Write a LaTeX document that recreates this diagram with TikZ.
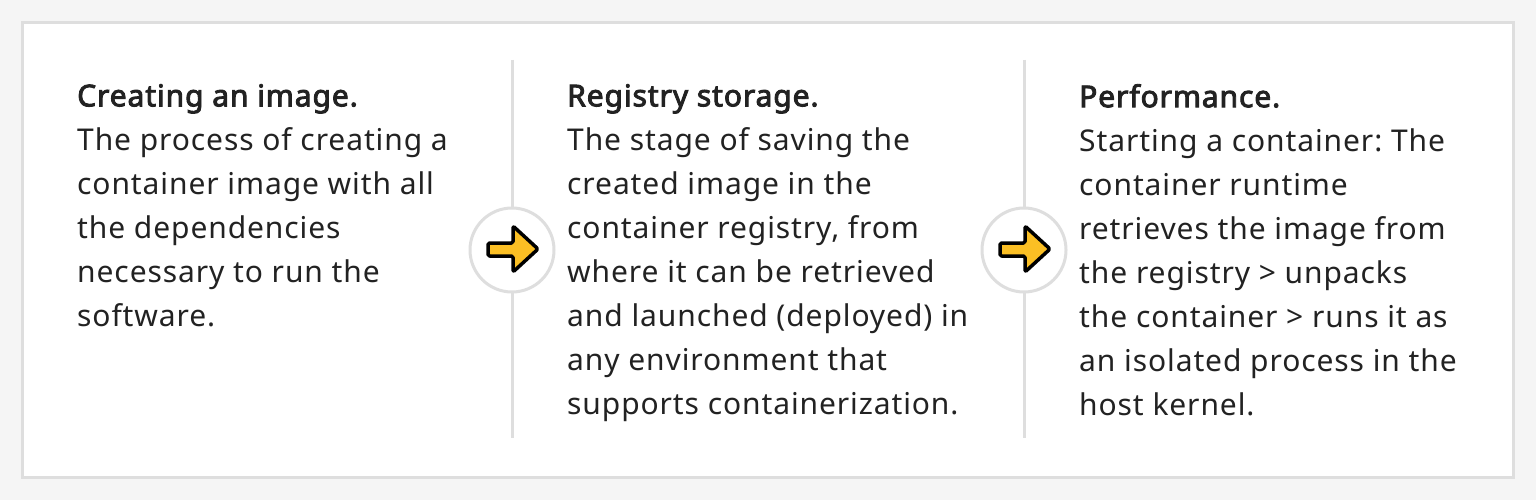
\documentclass[tikz,border=0pt]{standalone}
\usepackage{fontspec}
\setmainfont{Noto Sans}[LetterSpace=3, BoldFont={Noto Sans},
  BoldFeatures={FakeBold=3}]
\frenchspacing
\usetikzlibrary{positioning}

\definecolor{pagebg}{HTML}{F5F5F5}
\definecolor{cardline}{HTML}{DEDEDE}
\definecolor{ink}{HTML}{222222}
\definecolor{arrowfill}{HTML}{FBBF24}

\begin{document}
\begin{tikzpicture}[x=1pt, y=-1pt,
  stage/.style={anchor=north west, inner sep=0pt, align=left, text=ink,
    font=\fontsize{30}{44}\selectfont},
  stepring/.style={circle, draw=cardline, line width=3pt, fill=white,
    minimum size=84pt, inner sep=0pt},
  divider/.style={draw=cardline, line width=3pt},
  pointer/.style={fill=arrowfill, draw=black, line width=3.5pt,
    line join=round, rounded corners=1.5pt}]

  % Page and card
  \fill[pagebg] (0,0) rectangle (1536,500);
  \draw[cardline, line width=3pt, fill=white] (22.5,22.5) rectangle (1513.5,477.5);

  % Dividers
  \coordinate (d1top) at (512,60);
  \coordinate (d1bot) at (512,438);
  \coordinate (d2top) at (1024,60);
  \coordinate (d2bot) at (1024,438);
  \draw[divider] (d1top) -- (d1bot);
  \draw[divider] (d2top) -- (d2bot);

  % Step rings with arrows
  \foreach \name/\xx in {ring1/512, ring2/1024} {
    \node[stepring] (\name) at (\xx,250) {};
    \draw[pointer, shift={(\name.center)}]
      (-24,-7) -- (1,-7) -- (1,-24) -- (26,-1) -- (1,22) -- (1,6)
      -- (-24,6) -- cycle;
  }

  % Stages
  \node[stage] (create) at (77,84)
    {\textbf{Creating an image.}\\
     The process of creating a\\
     container image with all\\
     the dependencies\\
     necessary to run the\\
     software.};
  \node[stage] (registry) at (567,84)
    {\textbf{Registry storage.}\\
     The stage of saving the\\
     created image in the\\
     container registry, from\\
     where it can be retrieved\\
     and launched (deployed) in\\
     any environment that\\
     supports containerization.};
  \node[stage] (perform) at (1079,84)
    {\textbf{Performance.}\\
     Starting a container: The\\
     container runtime\\
     retrieves the image from\\
     the registry > unpacks\\
     the container > runs it as\\
     an isolated process in the\\
     host kernel.};
\end{tikzpicture}
\end{document}
